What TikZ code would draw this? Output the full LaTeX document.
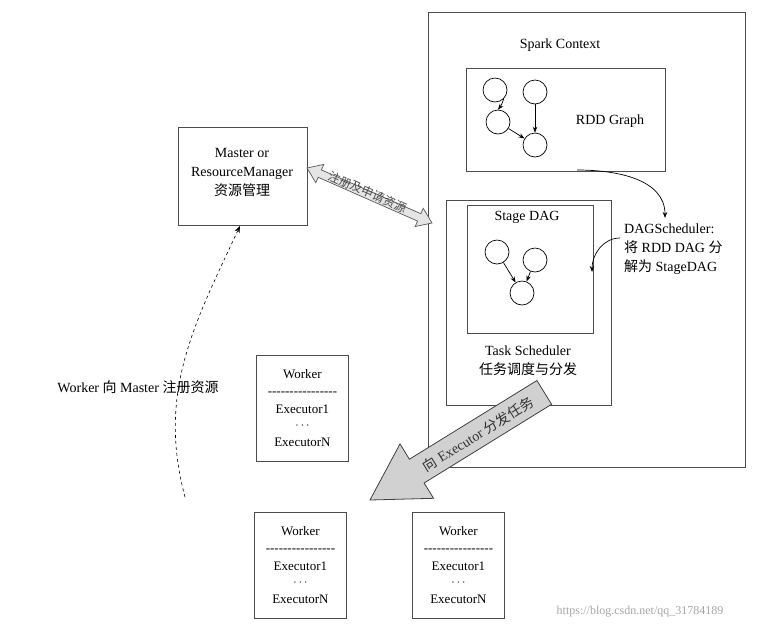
\documentclass[tikz,border=0pt]{standalone}
\usepackage{fontspec}
\setmainfont{Liberation Serif}
\newfontfamily\cjk{Noto Sans CJK SC}
\usetikzlibrary{arrows.meta}
\newcommand\dashrowx{-{}-{}-{}-{}-{}-{}-{}-{}-{}-{}-{}-{}-{}-{}-{}-}
\begin{document}
\begin{tikzpicture}[x=1pt,y=-1pt,font=\fontsize{14}{16}\selectfont,
  box/.style={draw=black!70,line width=0.9pt},
  circ/.style={draw,circle,minimum size=24pt,inner sep=0pt,line width=0.7pt},
  edge/.style={-{Stealth[length=6pt]},line width=0.7pt},
  txt/.style={inner sep=0pt,align=center}]
\useasboundingbox (0,0) rectangle (765,633);
% Spark context
\node[box,minimum width=317pt,minimum height=455pt,anchor=north west] (sc) at (428,12) {};
\node[txt] (sct) at (560,45) {Spark Context};
\node[box,minimum width=199pt,minimum height=103pt,anchor=north west] (rdd) at (466,68) {};
\node[circ] (r1) at (495,90) {};
\node[circ] (r2) at (498,122) {};
\node[circ] (r3) at (535,145) {};
\node[circ] (r4) at (535,92) {};
\draw[edge] (r1.south east) to[bend left=10] (r2.north);
\draw[edge] (r2) -- (r3);
\draw[edge] (r4) -- (r3);
\node[txt] (rddt) at (610,121) {RDD Graph};
% Task scheduler
\node[box,minimum width=165pt,minimum height=205pt,anchor=north west] (ts) at (446,200) {};
\node[box,minimum width=126pt,minimum height=128pt,anchor=north west] (sd) at (467,205) {};
\node[txt] (sdt) at (527,217) {Stage DAG};
\node[circ] (s1) at (497,252) {};
\node[circ] (s2) at (535,260) {};
\node[circ] (s3) at (522,293) {};
\draw[edge] (s1) -- (s3);
\draw[edge] (s2) -- (s3);
\node[txt] (tst) at (528,361) {Task Scheduler\\[3pt]{\cjk 任务调度与分发}};
% DAGScheduler
\node[txt,align=left,anchor=north west] (dag) at (624,224) {DAGScheduler:\\[3pt]{\cjk 将} RDD DAG {\cjk 分}\\[3pt]{\cjk 解为} StageDAG};
\coordinate (c1) at (577,170);
\coordinate (c2) at (665,218);
\draw[edge] (c1) to[out=0,in=90] (c2);
\coordinate (c3) at (620,238);
\coordinate (c4) at (592,272);
\draw[edge] (c3) to[out=180,in=90] (c4);
% Master
\node[box,minimum width=129pt,minimum height=98pt,anchor=north west] (m) at (178,127) {};
\node[txt] (mt) at (242,172) {Master or\\[3pt]ResourceManager\\[3pt]{\cjk 资源管理}};
\draw[draw=black!65,fill=black!10,line width=0.7pt] (307,168) -- (323.8,164.4) -- (321.4,169.9) -- (420.8,213.7) -- (423.2,208.3) -- (432,223) -- (415.2,226.5) -- (417.6,221.1) -- (318.2,177.3) -- (315.8,182.7) -- cycle;
\node[txt,rotate=-23.7,font=\cjk\fontsize{12}{14}\selectfont,text=black!70] (dat) at (368,192) {注册及申请资源};
% Workers
\tikzset{wk/.style={box,minimum width=92pt,minimum height=106pt,anchor=north west,
  font=\fontsize{13}{15}\selectfont,align=center,inner sep=2pt}}
\node[wk] (w1) at (256,355) {Worker\\[2pt]\dashrowx\\[3pt]Executor1\\[0pt]$\cdots$\\[3pt]ExecutorN};
\node[wk] (w2) at (254,512) {Worker\\[2pt]\dashrowx\\[3pt]Executor1\\[0pt]$\cdots$\\[3pt]ExecutorN};
\node[wk] (w3) at (412,512) {Worker\\[2pt]\dashrowx\\[3pt]Executor1\\[0pt]$\cdots$\\[3pt]ExecutorN};
% dashed registration arrow
\coordinate (d1) at (185,497);
\draw[-{Stealth[length=7pt]},dashed,line width=0.6pt] (d1) to[out=105,in=-115] (m.south -| 240,0);
\node[txt] (wl) at (138,387) {Worker {\cjk 向} Master {\cjk 注册资源}};
% big arrow
\draw[draw=black!75,fill=black!18,line width=0.8pt] (370,500) -- (433.6,498.3) -- (424.1,483.0) -- (551.6,404.3) -- (536.9,380.5) -- (409.4,459.2) -- (400.0,443.9) -- cycle;
\node[txt,rotate=31.7,text=black!80] (bat) at (478,434) {{\cjk 向} Executor {\cjk 分发任务}};
% watermark
\node[txt,text=black!35,font=\fontsize{12}{14}\selectfont] (wm) at (640,612) {https://blog.csdn.net/qq\_31784189};
\end{tikzpicture}
\end{document}
